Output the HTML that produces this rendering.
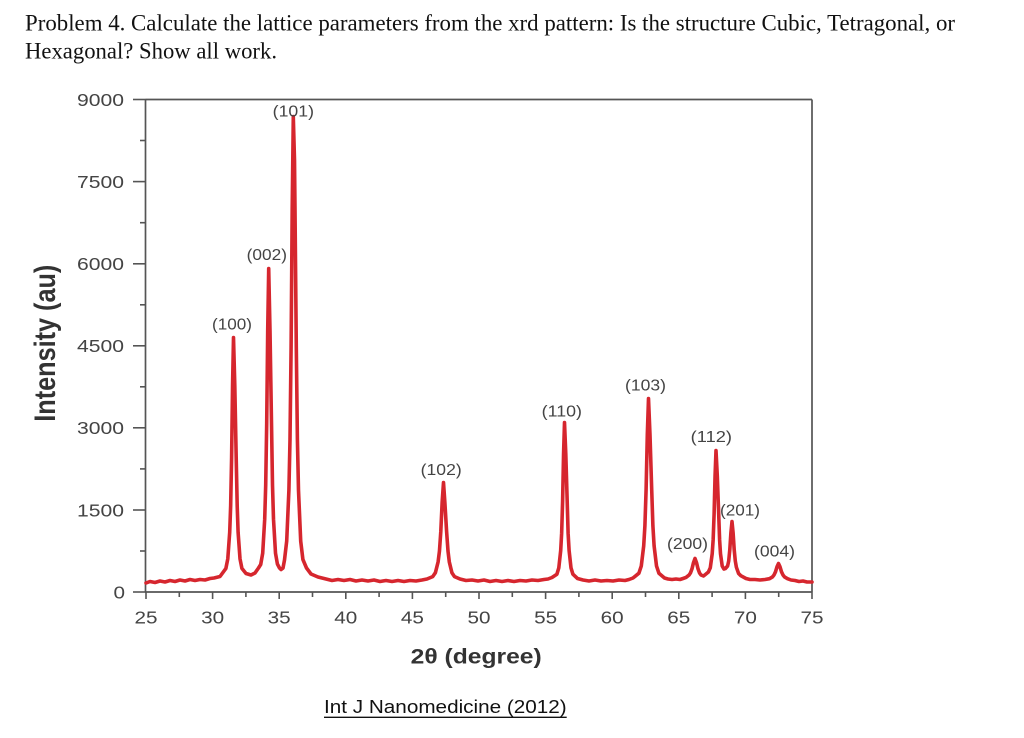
<!DOCTYPE html>
<html>
<head>
<meta charset="utf-8">
<style>
  html, body { margin: 0; padding: 0; background: #ffffff; }
  body { width: 1024px; height: 738px; overflow: hidden; }
  svg { display: block; }
</style>
</head>
<body>
<svg width="1024" height="738" viewBox="0 0 1024 738" xmlns="http://www.w3.org/2000/svg">
  <rect x="0" y="0" width="1024" height="738" fill="#ffffff"/>

  <!-- Title -->
  <text x="25" y="30.5" font-family="'Liberation Serif', serif" font-size="23" fill="#111" textLength="930" lengthAdjust="spacingAndGlyphs">Problem 4. Calculate the lattice parameters from the xrd pattern: Is the structure Cubic, Tetragonal, or</text>
  <text x="25" y="58.5" font-family="'Liberation Serif', serif" font-size="23" fill="#111" textLength="252" lengthAdjust="spacingAndGlyphs">Hexagonal? Show all work.</text>

  <!-- Frame -->
  <g stroke="#555" stroke-width="1.7" fill="none">
    <line x1="145.5" y1="99.5" x2="812" y2="99.5"/>
    <line x1="812" y1="99.5" x2="812" y2="592"/>
    <line x1="145.5" y1="99" x2="145.5" y2="592.5"/>
    <line x1="145" y1="592" x2="812.5" y2="592"/>
  </g>

  <!-- Y ticks -->
  <g stroke="#555" stroke-width="1.6">
    <line x1="133" y1="99.5" x2="145.5" y2="99.5"/>
    <line x1="133" y1="181.6" x2="145.5" y2="181.6"/>
    <line x1="133" y1="263.8" x2="145.5" y2="263.8"/>
    <line x1="133" y1="345.8" x2="145.5" y2="345.8"/>
    <line x1="133" y1="427.8" x2="145.5" y2="427.8"/>
    <line x1="133" y1="510" x2="145.5" y2="510"/>
    <line x1="133" y1="592" x2="145.5" y2="592"/>
    <line x1="140" y1="140.5" x2="145.5" y2="140.5"/>
    <line x1="140" y1="222.7" x2="145.5" y2="222.7"/>
    <line x1="140" y1="304.8" x2="145.5" y2="304.8"/>
    <line x1="140" y1="386.8" x2="145.5" y2="386.8"/>
    <line x1="140" y1="468.9" x2="145.5" y2="468.9"/>
    <line x1="140" y1="551" x2="145.5" y2="551"/>
  </g>

  <!-- X ticks -->
  <g stroke="#555" stroke-width="1.6">
    <line x1="146" y1="592" x2="146" y2="599"/>
    <line x1="212.6" y1="592" x2="212.6" y2="599"/>
    <line x1="279.2" y1="592" x2="279.2" y2="599"/>
    <line x1="345.8" y1="592" x2="345.8" y2="599"/>
    <line x1="412.4" y1="592" x2="412.4" y2="599"/>
    <line x1="479" y1="592" x2="479" y2="599"/>
    <line x1="545.6" y1="592" x2="545.6" y2="599"/>
    <line x1="612.2" y1="592" x2="612.2" y2="599"/>
    <line x1="678.8" y1="592" x2="678.8" y2="599"/>
    <line x1="745.4" y1="592" x2="745.4" y2="599"/>
    <line x1="812" y1="592" x2="812" y2="599"/>
    <line x1="179.3" y1="592" x2="179.3" y2="597"/>
    <line x1="245.9" y1="592" x2="245.9" y2="597"/>
    <line x1="312.5" y1="592" x2="312.5" y2="597"/>
    <line x1="379.1" y1="592" x2="379.1" y2="597"/>
    <line x1="445.7" y1="592" x2="445.7" y2="597"/>
    <line x1="512.3" y1="592" x2="512.3" y2="597"/>
    <line x1="578.9" y1="592" x2="578.9" y2="597"/>
    <line x1="645.5" y1="592" x2="645.5" y2="597"/>
    <line x1="712.1" y1="592" x2="712.1" y2="597"/>
    <line x1="778.7" y1="592" x2="778.7" y2="597"/>
  </g>

  <!-- Y tick labels -->
  <g font-family="'Liberation Sans', sans-serif" font-size="17.5" fill="#444">
    <text x="77" y="105.8" textLength="47" lengthAdjust="spacingAndGlyphs">9000</text>
    <text x="77" y="187.9" textLength="47" lengthAdjust="spacingAndGlyphs">7500</text>
    <text x="77" y="270.1" textLength="47" lengthAdjust="spacingAndGlyphs">6000</text>
    <text x="77" y="352.1" textLength="47" lengthAdjust="spacingAndGlyphs">4500</text>
    <text x="77" y="434.1" textLength="47" lengthAdjust="spacingAndGlyphs">3000</text>
    <text x="77" y="516.3" textLength="47" lengthAdjust="spacingAndGlyphs">1500</text>
    <text x="113.5" y="598.3" textLength="11.5" lengthAdjust="spacingAndGlyphs">0</text>
  </g>

  <!-- X tick labels -->
  <g font-family="'Liberation Sans', sans-serif" font-size="17.5" fill="#444">
    <text x="134.5" y="623.3" textLength="23" lengthAdjust="spacingAndGlyphs">25</text>
    <text x="201.1" y="623.3" textLength="23" lengthAdjust="spacingAndGlyphs">30</text>
    <text x="267.7" y="623.3" textLength="23" lengthAdjust="spacingAndGlyphs">35</text>
    <text x="334.3" y="623.3" textLength="23" lengthAdjust="spacingAndGlyphs">40</text>
    <text x="400.9" y="623.3" textLength="23" lengthAdjust="spacingAndGlyphs">45</text>
    <text x="467.5" y="623.3" textLength="23" lengthAdjust="spacingAndGlyphs">50</text>
    <text x="534.1" y="623.3" textLength="23" lengthAdjust="spacingAndGlyphs">55</text>
    <text x="600.7" y="623.3" textLength="23" lengthAdjust="spacingAndGlyphs">60</text>
    <text x="667.3" y="623.3" textLength="23" lengthAdjust="spacingAndGlyphs">65</text>
    <text x="733.9" y="623.3" textLength="23" lengthAdjust="spacingAndGlyphs">70</text>
    <text x="800.5" y="623.3" textLength="23" lengthAdjust="spacingAndGlyphs">75</text>
  </g>

  <!-- Axis titles -->
  <text x="410.7" y="663.3" font-family="'Liberation Sans', sans-serif" font-weight="bold" font-size="21" fill="#333" textLength="131" lengthAdjust="spacingAndGlyphs">2θ (degree)</text>
  <text transform="translate(55,421.7) scale(1.18,1) rotate(-90)" x="0" y="0" font-family="'Liberation Sans', sans-serif" font-weight="bold" font-size="25" fill="#333" textLength="157" lengthAdjust="spacingAndGlyphs">Intensity (au)</text>

  <!-- Data curve -->
  <path fill="none" stroke="#d6262e" stroke-width="3.6" stroke-linejoin="round" stroke-linecap="round" d="M146,583 L150,581.5 155,582.5 160,581 165,582 170,580.5 175,581.5 180,580 185,581 190,579.5 195,580.5 200,579.5 205,580 210,578.5 214,578 220,576.5 225.9,568.4 227.8,558.8 229.7,532.3 230.65,505.9 231.6,457.8 232.55,385.6 233.5,337.5 234.8,385.6 236.2,457.8 237.2,505.9 238.1,532.3 240,558.8 241.9,568.4 246,573.5 251,575 255,573 258.5,568 260.7,564.5 262.7,553.2 264.7,519.2 265.7,485.1 266.7,423.2 267.7,330.4 268.7,268.5 270,330.4 271.5,423.2 272.5,485.1 273.5,519.2 275.5,553.2 277.4,564 279.5,568 281,569.5 283,568 284.5,560 286.7,541.1 288.9,490.3 290,439.5 291.1,347.2 292.2,208.8 293.3,116.5 294.5,160 295,208.8 296.3,347.2 297.4,439.5 298.5,490.3 300.7,541.1 302.9,559.5 306.5,568 311,574 318,577 326,579 332,580.5 338,579.5 344,580.5 350,579.5 356,581 362,580 368,581 374,580 380,581.5 386,580.5 392,581.5 398,580.5 404,581.5 410,580.5 416,581 422,580 427,579 432.7,576.6 435.4,572.7 438.1,561.9 439.45,551.1 440.8,531.5 442.15,502.1 443.5,482.5 444.85,502.1 446.6,531.5 448,551.1 449.3,561.9 451.9,572.7 454.5,576.6 460,579 466,580.5 472,580 478,581 484,580 490,581.5 496,580.5 502,581.5 508,580.5 514,581.5 520,580.5 526,581 532,580 538,580.5 544,579.5 548,579 552,577.5 556.9,574.2 558.8,567.9 560.7,550.5 561.65,533.1 562.6,501.5 563.55,454.1 564.5,422.5 565.8,454.1 567.2,501.5 568.1,533.1 569.1,550.5 571,567.9 572.9,574.2 577.5,578.5 583,580 589,581 595,580 601,581 607,580.5 613,581 619,580 625,580.5 629,579.5 633,578 638.9,573.2 641.3,565.9 643.7,545.9 644.9,525.9 646.1,489.5 647.3,434.9 648.5,398.5 650,434.9 651.7,489.5 652.9,525.9 654.1,545.9 656.5,565.9 658.9,573.2 664.5,578 668,579 672,579.5 676,579 680,579.5 683,578.5 686,577.4 689,575.1 690.5,572.9 692,568.8 693.5,562.6 695,558.5 696.5,562.6 698,568.8 699.5,572.9 701,575 703.5,576 706,574 708.4,572 710.3,567.8 712.2,553.8 713.15,539.7 714.1,514.2 715.05,476 716,450.5 717.3,476 718.7,514.2 719.6,539.7 720.5,553.8 722.2,566 723.9,569 725.4,568.5 727.6,566 728.7,561 729.8,549.7 730.9,532.8 732,521.5 733.1,532.8 734.2,549.7 735.3,561 736.4,567.3 738.6,573.5 740.8,575.7 746,578.5 750,579.5 755,579.5 760,580 765,579.5 769.5,578.7 772.5,576.9 774,575 775.5,571.8 777,566.8 778.5,563.5 780,566.8 781.5,571.8 783,575 784.5,576.9 787.5,578.7 791,580 795,580.5 799,581.5 803,581 807,582 812,582"/>

  <!-- Peak labels -->
  <g font-family="'Liberation Sans', sans-serif" font-size="16" fill="#444">
    <text x="212" y="329.3" textLength="40" lengthAdjust="spacingAndGlyphs">(100)</text>
    <text x="246.7" y="260" textLength="40.3" lengthAdjust="spacingAndGlyphs">(002)</text>
    <text x="272.7" y="116.5" textLength="41.3" lengthAdjust="spacingAndGlyphs">(101)</text>
    <text x="420.7" y="475" textLength="41" lengthAdjust="spacingAndGlyphs">(102)</text>
    <text x="541.7" y="416.5" textLength="40.3" lengthAdjust="spacingAndGlyphs">(110)</text>
    <text x="625" y="390.5" textLength="41" lengthAdjust="spacingAndGlyphs">(103)</text>
    <text x="690.7" y="442" textLength="41.3" lengthAdjust="spacingAndGlyphs">(112)</text>
    <text x="720" y="515.5" textLength="40" lengthAdjust="spacingAndGlyphs">(201)</text>
    <text x="667" y="549" textLength="41" lengthAdjust="spacingAndGlyphs">(200)</text>
    <text x="754" y="556.5" textLength="41" lengthAdjust="spacingAndGlyphs">(004)</text>
  </g>

  <!-- Source -->
  <text x="324" y="713" font-family="'Liberation Sans', sans-serif" font-size="18.6" fill="#111" textLength="242.7" lengthAdjust="spacingAndGlyphs">Int J Nanomedicine (2012)</text>
  <line x1="324" y1="717.3" x2="566.7" y2="717.3" stroke="#111" stroke-width="1.3"/>
</svg>
</body>
</html>
